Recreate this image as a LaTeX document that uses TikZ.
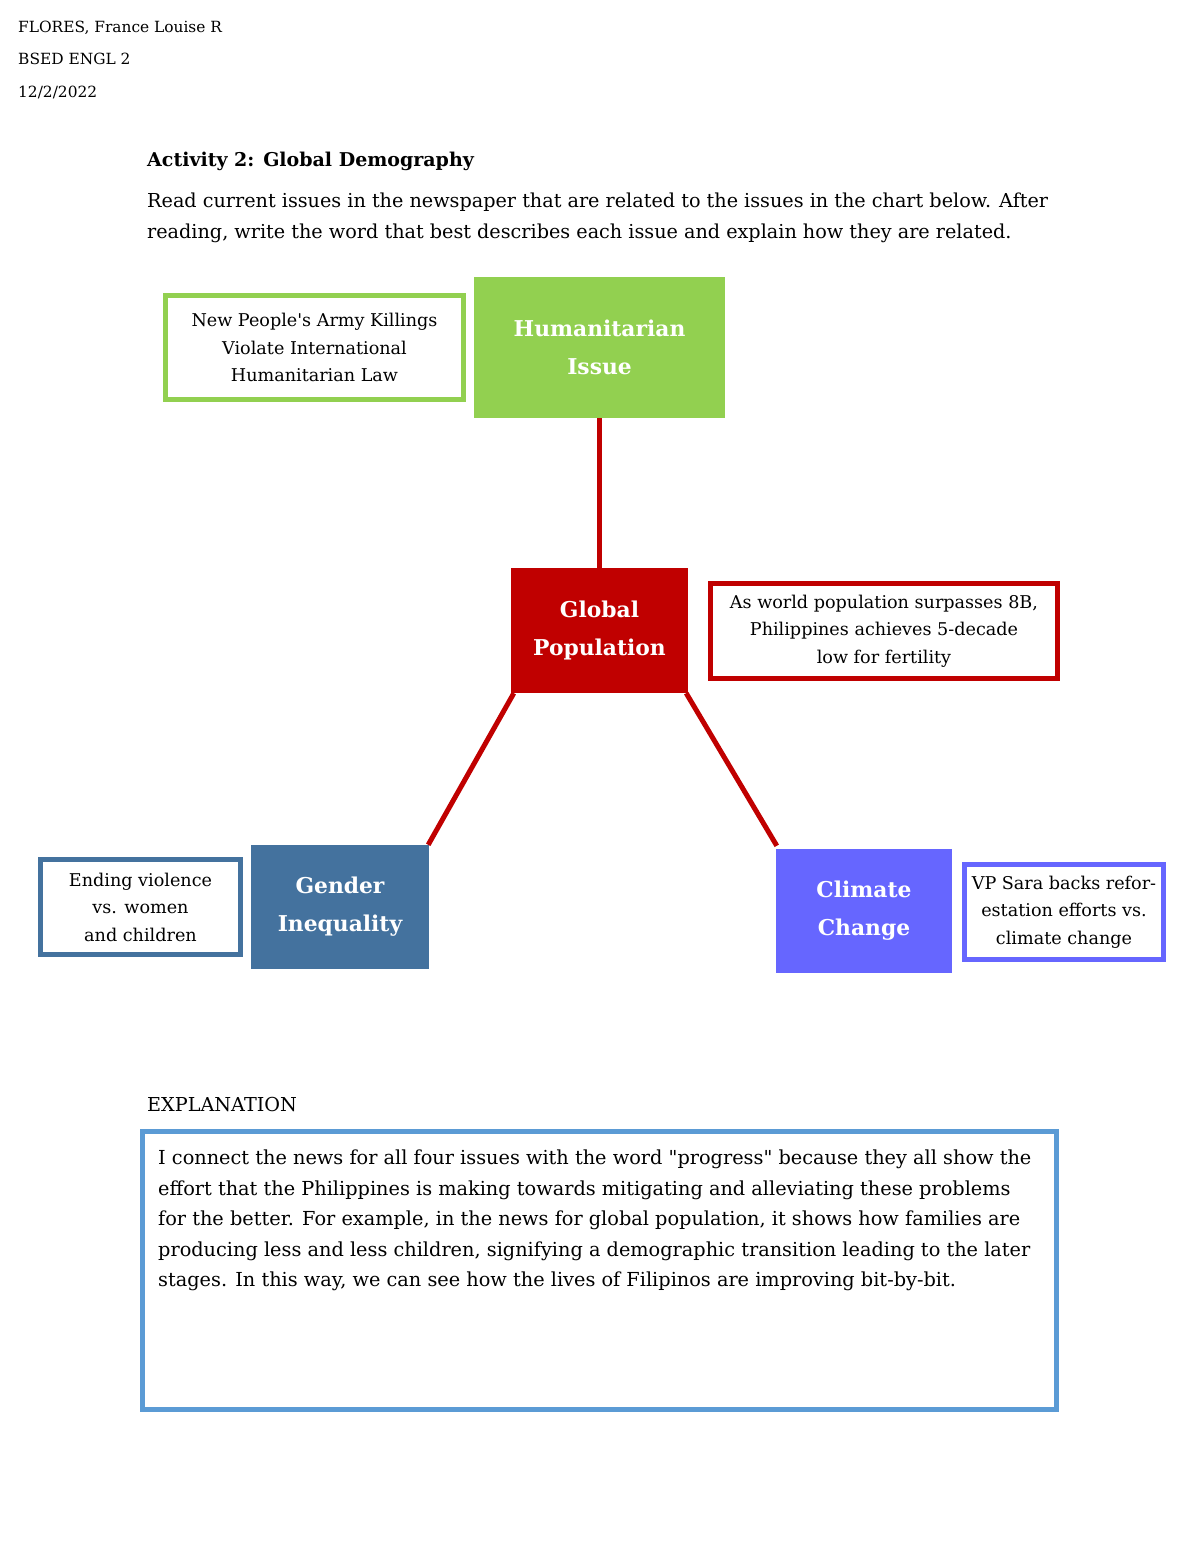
\documentclass[tikz,border=0pt]{standalone}
\usepackage{fontspec}
\setmainfont{DejaVu Serif}[Ligatures=TeXOff]
\definecolor{hgreen}{HTML}{92D050}
\definecolor{gred}{HTML}{C00000}
\definecolor{gblue}{HTML}{44729E}
\definecolor{cblue}{HTML}{6666FF}
\definecolor{eblue}{HTML}{5B9BD5}
\begin{document}
\begin{tikzpicture}[x=1pt,y=-1pt,
  issue/.style={rectangle, draw=none, inner sep=0pt, text=white, align=center,
    font=\bfseries\fontsize{21.8}{38}\selectfont},
  news/.style={rectangle, fill=white, line width=5pt, inner sep=0pt, align=center,
    font=\fontsize{17.6}{27.5}\selectfont},
  link/.style={gred, line width=5pt},
  plain/.style={anchor=base west, inner sep=0pt},
  hdr/.style={plain, font=\fontsize{15.4}{18}\selectfont},
  body/.style={plain, font=\fontsize{19.2}{22}\selectfont}]
\useasboundingbox (0,0) rectangle (1200,1553);
% header
\node[hdr] (h1) at (18,32) {FLORES, France Louise R};
\node[hdr] (h2) at (18,64) {BSED ENGL 2};
\node[hdr] (h3) at (18,97) {12/2/2022};
\node[body, font=\bfseries\fontsize{19}{22}\selectfont] (title) at (147,166) {Activity 2: Global Demography};
\node[body] (p1) at (147,207) {Read current issues in the newspaper that are related to the issues in the chart below. After};
\node[body] (p2) at (147,238) {reading, write the word that best describes each issue and explain how they are related.};
% issue boxes
\node[issue, fill=hgreen, minimum width=251pt, minimum height=141pt] (hum) at (599.5,347.5) {Humanitarian\\Issue};
\node[issue, fill=gred, minimum width=177pt, minimum height=125pt] (glob) at (599.5,630.5) {Global\\Population};
\node[issue, fill=gblue, minimum width=178pt, minimum height=124pt] (gen) at (340,907) {Gender\\Inequality};
\node[issue, fill=cblue, minimum width=176pt, minimum height=124pt] (clim) at (864,911) {Climate\\Change};
% news boxes
\node[news, draw=hgreen, minimum width=298pt, minimum height=104pt] (npa) at (314.5,347.5) {New People's Army Killings\\Violate International\\Humanitarian Law};
\node[news, draw=gred, minimum width=347pt, minimum height=95pt] (fert) at (884,631) {As world population surpasses 8B,\\Philippines achieves 5-decade\\low for fertility};
\node[news, draw=gblue, minimum width=200pt, minimum height=95pt] (end) at (140.5,907) {Ending violence\\vs. women\\and children};
\node[news, draw=cblue, minimum width=199pt, minimum height=95pt] (vp) at (1064,912) {VP Sara backs refor-\\estation efforts vs.\\climate change};
% connectors
\draw[link] (hum.south) -- (glob.north);
\draw[link] ([xshift=3pt]glob.south west) -- ([xshift=-1pt]gen.north east);
\draw[link] ([xshift=-2pt]glob.south east) -- ([xshift=1pt,yshift=3pt]clim.north west);
% explanation
\node[body] (exl) at (147,1111) {EXPLANATION};
\node[rectangle, draw=eblue, line width=5pt, minimum width=914pt, minimum height=278pt, inner sep=0pt] (ebox) at (599.5,1270.5) {};
\node[body, font=\fontsize{19.3}{22}\selectfont] (e1) at (158,1164) {I connect the news for all four issues with the word "progress" because they all show the};
\node[body, font=\fontsize{19.3}{22}\selectfont] (e2) at (158,1195) {effort that the Philippines is making towards mitigating and alleviating these problems};
\node[body, font=\fontsize{19.3}{22}\selectfont] (e3) at (158,1225) {for the better. For example, in the news for global population, it shows how families are};
\node[body, font=\fontsize{19.3}{22}\selectfont] (e4) at (158,1256) {producing less and less children, signifying a demographic transition leading to the later};
\node[body, font=\fontsize{19.3}{22}\selectfont] (e5) at (158,1286) {stages. In this way, we can see how the lives of Filipinos are improving bit-by-bit.};
\end{tikzpicture}
\end{document}
